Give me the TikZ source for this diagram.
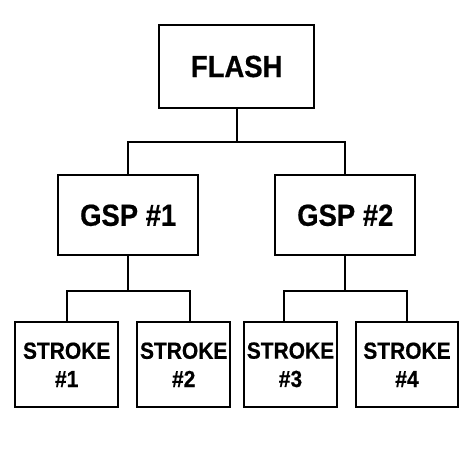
\documentclass[tikz,border=0pt]{standalone}
\usepackage{fontspec}
\newfontfamily\labfont[FakeStretch=0.9, BoldFeatures={FakeBold=0.6}]{Liberation Sans}
\begin{document}
\begin{tikzpicture}[x=1pt,y=-1pt,
  box/.style={draw, line width=2pt, inner sep=0pt, anchor=center},
  big/.style={box, font=\labfont\bfseries\fontsize{30.5}{30}\selectfont},
  small/.style={box, align=center, font=\labfont\bfseries\fontsize{23.3}{28.3}\selectfont},
  link/.style={line width=2pt}]
\useasboundingbox[fill=white] (0,0) rectangle (474,474);
\node[big, minimum width=155.3pt, minimum height=83pt] (flash) at (236.7,66.5) {FLASH};
\node[big, minimum width=140.3pt, minimum height=80pt] (g1) at (128.2,215.3) {GSP \#1};
\node[big, minimum width=140pt, minimum height=80pt] (g2) at (345.3,215.3) {GSP \#2};
\node[small, minimum width=103.3pt, minimum height=85pt] (s1) at (66.7,364.8) {STROKE\\\#1};
\node[small, minimum width=92.7pt, minimum height=85pt] (s2) at (183.7,364.8) {STROKE\\\#2};
\node[small, minimum width=92.4pt, minimum height=85pt] (s3) at (290.5,364.8) {STROKE\\\#3};
\node[small, minimum width=102.6pt, minimum height=85pt] (s4) at (407,364.8) {STROKE\\\#4};
\coordinate (j0) at (236.7,142.3);
\coordinate (j1) at (128.2,291.3);
\coordinate (j2) at (345.3,291.3);
\coordinate (a2) at (190,322.3);
\coordinate (a3) at (284.3,322.3);
\draw[link] (flash.south) -- (j0);
\draw[link] (g1.north) |- (j0) -| (g2.north);
\draw[link] (g1.south) -- (j1);
\draw[link] (s1.north) |- (j1) -| (a2);
\draw[link] (g2.south) -- (j2);
\draw[link] (a3) |- (j2) -| (s4.north);
\end{tikzpicture}
\end{document}
